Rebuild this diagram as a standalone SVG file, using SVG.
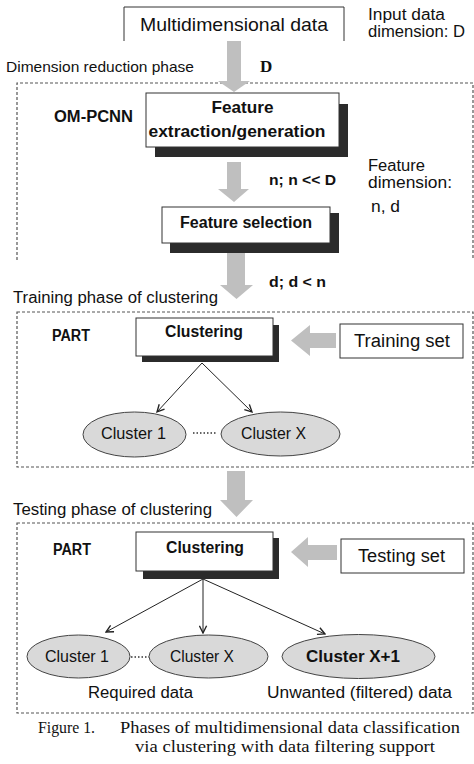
<svg xmlns="http://www.w3.org/2000/svg" width="474" height="764" viewBox="0 0 474 764">
<style>
.s{font-family:"Liberation Sans",Arial,sans-serif;fill:#111}
.b{font-family:"Liberation Sans",Arial,sans-serif;font-weight:bold;fill:#111}
.r{font-family:"Liberation Serif","Times New Roman",serif;fill:#111}
.box{fill:#fff;stroke:#333;stroke-width:1}
.sh{fill:#2b2b2b}
.dash{fill:none;stroke:#555;stroke-width:1.2;stroke-dasharray:3 2}
.ga{fill:#bfbfbf}
.ell{fill:#d9d9d9;stroke:#444;stroke-width:1}
.ln{stroke:#222;stroke-width:1;fill:none;marker-end:url(#ah)}
.dots{stroke:#333;stroke-width:1.3;stroke-dasharray:1.5 2}
</style>
<defs>
<marker id="ah" viewBox="0 0 10 10" refX="9" refY="5" markerWidth="9" markerHeight="9" orient="auto" markerUnits="userSpaceOnUse">
<path d="M1,1 L9,5 L1,9" fill="none" stroke="#222" stroke-width="1.5"/>
</marker>
</defs>
<rect width="474" height="764" fill="#fff"/>

<!-- phase containers -->
<g id="phase-dimension-reduction">
<path class="dash" d="M17,260 V83 H473 V260"/>
<text class="s" x="6" y="72" font-size="15" textLength="188" lengthAdjust="spacingAndGlyphs">Dimension reduction phase</text>
</g>
<g id="phase-training">
<rect class="dash" x="17" y="312" width="456" height="155"/>
<text class="s" x="13" y="303" font-size="16" textLength="205" lengthAdjust="spacingAndGlyphs">Training phase of clustering</text>
</g>
<g id="phase-testing">
<rect class="dash" x="17" y="523" width="456" height="190"/>
<text class="s" x="13" y="515" font-size="16" textLength="199" lengthAdjust="spacingAndGlyphs">Testing phase of clustering</text>
</g>

<!-- connectors -->
<g id="connectors">
<polygon class="ga" points="227,41 241,41 241,81 250,81 234,92 218,81 227,81"/>
<polygon class="ga" points="227,162 241,162 241,189 249,189 234,202 218,189 227,189"/>
<polygon class="ga" points="227,253 245,253 245,285 253,285 236.5,299 220,285 227,285"/>
<polygon class="ga" points="227,471 245,471 245,500 253,500 236.5,517 220,500 227,500"/>
<polygon class="ga" points="336,333 310,333 310,325 291,340.5 310,356 310,348 336,348"/>
<polygon class="ga" points="337,545 308,545 308,537 291,552 308,567 308,560 337,560"/>
<line class="ln" x1="202" y1="363" x2="157" y2="412"/>
<line class="ln" x1="202" y1="363" x2="252" y2="412"/>
<line class="ln" x1="203" y1="579" x2="106" y2="632"/>
<line class="ln" x1="203" y1="579" x2="203" y2="633"/>
<line class="ln" x1="203" y1="579" x2="325" y2="634"/>
<line class="dots" x1="193" y1="433" x2="216" y2="433"/>
<line class="dots" x1="131" y1="657" x2="149" y2="657"/>
</g>

<!-- nodes -->
<g id="multidimensional-data">
<path d="M124,41 V7 H344 V41" fill="#fff" stroke="#333" stroke-width="1"/>
<text class="s" x="140" y="31" font-size="19" textLength="188" lengthAdjust="spacingAndGlyphs">Multidimensional data</text>
</g>
<g id="input-dimension-label">
<text class="s" x="368" y="20" font-size="16" textLength="77" lengthAdjust="spacingAndGlyphs">Input data</text>
<text class="s" x="368" y="37" font-size="16" textLength="97" lengthAdjust="spacingAndGlyphs">dimension: D</text>
</g>
<g id="label-D">
<text class="r" x="260" y="72" font-size="17" font-weight="bold">D</text>
</g>

<g id="feature-extraction">
<rect class="sh" x="155" y="104" width="193" height="53"/>
<rect class="box" x="146" y="93" width="193" height="54"/>
<text class="b" x="242.5" y="113" font-size="16.5" text-anchor="middle" textLength="62" lengthAdjust="spacingAndGlyphs">Feature</text>
<text class="b" x="148.5" y="137" font-size="16.5" textLength="177" lengthAdjust="spacingAndGlyphs">extraction/generation</text>
</g>
<g id="om-pcnn-label">
<text class="b" x="54" y="122" font-size="16" textLength="79" lengthAdjust="spacingAndGlyphs">OM-PCNN</text>
</g>
<g id="label-n">
<text class="b" x="269" y="185" font-size="15" textLength="67" lengthAdjust="spacingAndGlyphs">n; n &lt;&lt; D</text>
</g>
<g id="feature-dimension-label">
<text class="s" x="368" y="171" font-size="16" textLength="57" lengthAdjust="spacingAndGlyphs">Feature</text>
<text class="s" x="368" y="188" font-size="16" textLength="84" lengthAdjust="spacingAndGlyphs">dimension:</text>
<text class="s" x="371" y="212" font-size="16" textLength="29" lengthAdjust="spacingAndGlyphs">n, d</text>
</g>

<g id="feature-selection">
<rect class="sh" x="170" y="213" width="169" height="40"/>
<rect class="box" x="162" y="207" width="168" height="36"/>
<text class="b" x="180" y="228" font-size="16" textLength="132" lengthAdjust="spacingAndGlyphs">Feature selection</text>
</g>
<g id="label-d">
<text class="b" x="269" y="287" font-size="15" textLength="57" lengthAdjust="spacingAndGlyphs">d; d &lt; n</text>
</g>

<g id="clustering-training">
<rect class="sh" x="142" y="325" width="137" height="37"/>
<rect class="box" x="136" y="318" width="137" height="38"/>
<text class="b" x="165" y="337" font-size="16" textLength="78" lengthAdjust="spacingAndGlyphs">Clustering</text>
</g>
<g id="part-training">
<text class="b" x="52" y="341" font-size="16" textLength="38" lengthAdjust="spacingAndGlyphs">PART</text>
</g>
<g id="training-set">
<rect class="box" x="340" y="324" width="123" height="34"/>
<text class="s" x="354" y="347" font-size="18" textLength="96" lengthAdjust="spacingAndGlyphs">Training set</text>
</g>
<g id="train-cluster-1">
<ellipse class="ell" cx="134.5" cy="434.5" rx="51.5" ry="22.5"/>
<text class="s" x="101" y="439" font-size="16" textLength="65" lengthAdjust="spacingAndGlyphs">Cluster 1</text>
</g>
<g id="train-cluster-x">
<ellipse class="ell" cx="280.5" cy="434" rx="59.5" ry="22"/>
<text class="s" x="241" y="439" font-size="16" textLength="65" lengthAdjust="spacingAndGlyphs">Cluster X</text>
</g>

<g id="clustering-testing">
<rect class="sh" x="143" y="538" width="136" height="41"/>
<rect class="box" x="136" y="532" width="137" height="39"/>
<text class="b" x="166" y="553" font-size="16" textLength="78" lengthAdjust="spacingAndGlyphs">Clustering</text>
</g>
<g id="part-testing">
<text class="b" x="53" y="555" font-size="16" textLength="38" lengthAdjust="spacingAndGlyphs">PART</text>
</g>
<g id="testing-set">
<rect class="box" x="341" y="539" width="123" height="34"/>
<text class="s" x="358" y="562" font-size="18" textLength="87" lengthAdjust="spacingAndGlyphs">Testing set</text>
</g>
<g id="test-cluster-1">
<ellipse class="ell" cx="78.5" cy="656.5" rx="51.5" ry="21.5"/>
<text class="s" x="45" y="662" font-size="16" textLength="64" lengthAdjust="spacingAndGlyphs">Cluster 1</text>
</g>
<g id="test-cluster-x">
<ellipse class="ell" cx="208.5" cy="656.5" rx="59.5" ry="21.5"/>
<text class="s" x="170" y="662" font-size="16" textLength="64" lengthAdjust="spacingAndGlyphs">Cluster X</text>
</g>
<g id="test-cluster-x1">
<ellipse class="ell" cx="358.5" cy="656.5" rx="76.5" ry="22"/>
<text class="b" x="306" y="662" font-size="16" textLength="94" lengthAdjust="spacingAndGlyphs">Cluster X+1</text>
</g>
<g id="required-data-label">
<text class="s" x="88" y="698" font-size="16" textLength="105" lengthAdjust="spacingAndGlyphs">Required data</text>
</g>
<g id="unwanted-data-label">
<text class="s" x="267" y="698" font-size="16" textLength="185" lengthAdjust="spacingAndGlyphs">Unwanted (filtered) data</text>
</g>

<g id="caption">
<text class="r" x="38" y="733" font-size="17" textLength="57" lengthAdjust="spacingAndGlyphs">Figure 1.</text>
<text class="r" x="120" y="733" font-size="17" textLength="340" lengthAdjust="spacingAndGlyphs">Phases of multidimensional data classification</text>
<text class="r" x="135" y="752" font-size="17" textLength="300" lengthAdjust="spacingAndGlyphs">via clustering with data filtering support</text>
</g>
</svg>
